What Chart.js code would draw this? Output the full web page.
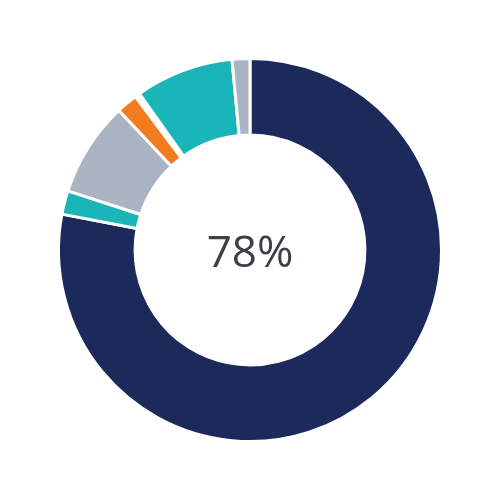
<!DOCTYPE html>
<html>
<head>
<script src="https://cdn.jsdelivr.net/npm/chart.js@4"></script>
<style>
  body { margin: 0; background: #fff; }
  #wrap { position: relative; width: 500px; height: 500px; }
  #label { position: absolute; left: 0; top: 0; width: 500px; height: 500px; display: flex; align-items: center; justify-content: center; font-family: "Open Sans", sans-serif; font-size: 44px; color: #3b3f48; pointer-events: none; }
</style>
</head>
<body>
<div id="wrap"><canvas id="c" width="500" height="500"></canvas><div id="label">78%</div></div>
<script>
const labels = ["A", "B", "C", "D", "E", "F", "G", "H"];
const values = [78, 2, 8, 1.8, 0.2, 0.2, 8.3, 1.5];
const colors = ["#1b2a5a", "#1ab5b8", "#a9b3c1", "#f47b20", "#1b2a5a", "#1ab5b8", "#1ab5b8", "#a9b3c1"];

new Chart(document.getElementById("c"), {
  type: "doughnut",
  data: {
    labels: labels,
    datasets: [{ data: values, backgroundColor: colors, borderColor: "#fff", borderWidth: 3 }]
  },
  options: {
    responsive: false,
    animation: false,
    cutout: "60%",
    layout: { padding: 57 },
    plugins: { legend: { display: false }, tooltip: { enabled: false } }
  }
});
</script>
</body>
</html>
